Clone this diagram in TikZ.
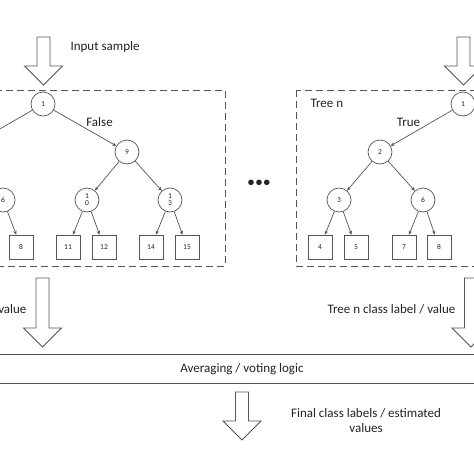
\documentclass[tikz,border=0pt]{standalone}
\usepackage{fontspec}
\setmainfont{Carlito}
\usetikzlibrary{arrows.meta}
\definecolor{linegray}{RGB}{85,85,85}
\definecolor{textgray}{RGB}{35,35,35}
\newcommand{\BlockArrow}[4]{\draw[BlockArrowLine] (#1-6.5,#2) -- (#1+6.5,#2) -- (#1+6.5,#3) -- (#1+19,#3) -- (#1,#4) -- (#1-19,#3) -- (#1-6.5,#3) -- cycle;}

\begin{document}
\begin{tikzpicture}[x=1pt, y=-1pt, font=\fontsize{13}{15}\selectfont, text=textgray]
    \useasboundingbox[fill=white] (0, 0) rectangle (474, 474);
    \tikzset{SplitNode/.style={circle, draw=linegray, line width=0.7pt, inner sep=0pt, minimum size=24pt, font=\fontsize{7.5}{7}\selectfont, align=center}}
    \tikzset{LeafNode/.style={rectangle, draw=linegray, line width=0.7pt, inner sep=0pt, minimum size=24pt, font=\fontsize{7.5}{7}\selectfont}}
    \tikzset{Connection/.style={-{Stealth[length=4pt, width=3.5pt]}, draw=linegray, line width=0.7pt}}
    \tikzset{TreeFrame/.style={draw=linegray, line width=1pt, dash pattern=on 7pt off 4pt}}
    \tikzset{BlockArrowLine/.style={draw=linegray, line width=0.9pt, fill=white, line join=miter}}

    % input arrows
    \BlockArrow{43.5}{37}{66}{85}
    \BlockArrow{463.5}{37}{66}{85}
    \node[anchor=west] (input) at (67, 47) {Input sample};

    % tree frames
    \draw[TreeFrame] (-124, 90) rectangle (225, 266);
    \draw[TreeFrame] (296, 90) rectangle (645, 266);
    \node[anchor=west] (tree-n) at (307, 103) {Tree n};

    % first tree (partly cut off)
    \node[SplitNode] (L1) at (43, 104) {1}; % root
    \coordinate (L2) at (-40, 152);
    \node[SplitNode] (L6) at (3, 200) {6};
    \node[SplitNode] (L9) at (127, 152) {9};
    \node[SplitNode] (L10) at (87, 200) {1\\0};
    \node[SplitNode] (L13) at (170, 200) {1\\3};
    \node[LeafNode] (L8) at (21, 247) {8};
    \node[LeafNode] (L11) at (68, 247) {11};
    \node[LeafNode] (L12) at (104, 247) {12};
    \node[LeafNode] (L14) at (151, 247) {14};
    \node[LeafNode] (L15) at (187, 247) {15};

    \draw[Connection] (L1) -- node [above left, inner sep=1pt] {True} (L2);
    \draw[Connection] (L1) -- node [above right, inner sep=1pt] {False} (L9);
    \draw[Connection] (L6) -- (L8);
    \draw[Connection] (L9) -- (L10);
    \draw[Connection] (L9) -- (L13);
    \draw[Connection] (L10) -- (L11);
    \draw[Connection] (L10) -- (L12);
    \draw[Connection] (L13) -- (L14);
    \draw[Connection] (L13) -- (L15);

    % tree n (partly cut off)
    \node[SplitNode] (R1) at (463, 104) {1}; % root
    \node[SplitNode] (R2) at (380, 152) {2};
    \node[SplitNode] (R3) at (339, 200) {3};
    \node[SplitNode] (R6) at (423, 200) {6};
    \node[LeafNode] (R4) at (320, 247) {4};
    \node[LeafNode] (R5) at (356, 247) {5};
    \node[LeafNode] (R7) at (404, 247) {7};
    \node[LeafNode] (R8) at (439, 247) {8};

    \draw[Connection] (R1) -- node [above left, inner sep=1pt] {True} (R2);
    \draw[Connection] (R2) -- (R3);
    \draw[Connection] (R2) -- (R6);
    \draw[Connection] (R3) -- (R4);
    \draw[Connection] (R3) -- (R5);
    \draw[Connection] (R6) -- (R7);
    \draw[Connection] (R6) -- (R8);

    \node[font=\bfseries\fontsize{13}{15}\selectfont] (dots) at (259, 183) {\textbullet\hspace{1.5pt}\textbullet\hspace{1.5pt}\textbullet};

    % outputs of the trees
    \BlockArrow{42.5}{278}{328}{347}
    \BlockArrow{471}{278}{328}{347}
    \node[anchor=east] (out-1) at (30, 309) {Tree 1 class label / value};
    \node[anchor=east] (out-n) at (459, 309) {Tree n class label / value};

    % voting bar
    \draw[draw=linegray, line width=1pt] (-5, 354) -- (479, 354);
    \draw[draw=linegray, line width=1pt] (-5, 383) -- (479, 383);
    \node (voting) at (242, 369) {Averaging / voting logic};

    % final output
    \BlockArrow{242}{392}{421}{440}
    \node[align=center] (final) at (366, 420.5) {Final class labels / estimated\\values};
\end{tikzpicture}
\end{document}
